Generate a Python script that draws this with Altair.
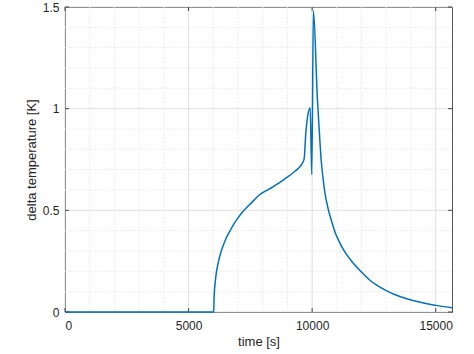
import altair as alt
import pandas as pd

time_s = [0, 6020, 6028, 6040, 6065, 6120, 6200, 6300, 6400, 6520, 6672, 6830, 7008,
          7200, 7412, 7640, 7885, 8100, 8358, 8600, 8827, 9040, 9232, 9420, 9571, 9677,
          9745, 9810, 9920, 9987, 10052, 10214, 10290, 10364, 10430, 10500, 10663,
          10780, 10905, 11080, 11310, 11600, 11985, 12300, 12660, 13000, 13340, 13800,
          14340, 14700, 15140, 15660]
delta_k = [0, 0, 0.05, 0.09, 0.13, 0.19, 0.243, 0.29, 0.326, 0.363, 0.398, 0.432, 0.464,
           0.494, 0.521, 0.549, 0.578, 0.594, 0.611, 0.630, 0.649, 0.667, 0.685, 0.704, 0.725,
           0.753, 0.881, 0.955, 1.004, 0.676, 1.482, 1.045, 0.89, 0.75, 0.67, 0.60, 0.50,
           0.45, 0.40, 0.35, 0.298, 0.25, 0.198, 0.16, 0.128, 0.105, 0.0863, 0.0665,
           0.0492, 0.0398, 0.0301, 0.0207]

x_major = [0, 5000, 10000, 15000]
y_major = [0, 0.5, 1, 1.5]
x_minor = [v for v in range(1000, 16000, 1000) if v % 5000 != 0]
y_minor = [round(v * 0.1, 1) for v in range(1, 15) if v % 5 != 0]

X_MAX = 15660
W, H = 387, 305

xs = alt.Scale(domain=[0, X_MAX], nice=False, zero=False)
ys = alt.Scale(domain=[0, 1.5], nice=False)

df = pd.DataFrame({"t": time_s, "d": delta_k})
xmin_df = pd.DataFrame({"x": x_minor})
ymin_df = pd.DataFrame({"y": y_minor})
xmaj_df = pd.DataFrame({"x": x_major})
ymaj_df = pd.DataFrame({"y": y_major})

minor_x = alt.Chart(xmin_df).mark_rule(color="#e0e0e0", strokeDash=[1, 1.5], strokeWidth=0.9).encode(
    x=alt.X("x:Q", scale=xs), y=alt.value(0), y2=alt.value(H))
minor_y = alt.Chart(ymin_df).mark_rule(color="#e0e0e0", strokeDash=[1, 1.5], strokeWidth=0.9).encode(
    y=alt.Y("y:Q", scale=ys), x=alt.value(0), x2=alt.value(W))
major_x = alt.Chart(xmaj_df).mark_rule(color="#dcdcdc", strokeWidth=0.9).encode(
    x=alt.X("x:Q", scale=xs), y=alt.value(0), y2=alt.value(H))
major_y = alt.Chart(ymaj_df).mark_rule(color="#dcdcdc", strokeWidth=0.9).encode(
    y=alt.Y("y:Q", scale=ys), x=alt.value(0), x2=alt.value(W))

tick_b = alt.Chart(xmaj_df).mark_rule(color="#444", strokeWidth=1).encode(
    x=alt.X("x:Q", scale=xs), y=alt.value(H), y2=alt.value(H - 4))
tick_t = alt.Chart(xmaj_df).mark_rule(color="#444", strokeWidth=1).encode(
    x=alt.X("x:Q", scale=xs), y=alt.value(0), y2=alt.value(4))
tick_l = alt.Chart(ymaj_df).mark_rule(color="#444", strokeWidth=1).encode(
    y=alt.Y("y:Q", scale=ys), x=alt.value(0), x2=alt.value(4))
tick_r = alt.Chart(ymaj_df).mark_rule(color="#444", strokeWidth=1).encode(
    y=alt.Y("y:Q", scale=ys), x=alt.value(W), x2=alt.value(W - 4))

line = alt.Chart(df).mark_line(color="#0072BD", strokeWidth=1.5, interpolate="monotone").encode(
    x=alt.X("t:Q", scale=xs, title="time [s]",
            axis=alt.Axis(values=x_major, format="d", grid=False, ticks=False, domain=False,
                          labelFontSize=12, labelColor="#262626", labelPadding=8,
                          titleFontSize=13, titleColor="#262626", titleFontWeight="normal",
                          titlePadding=4, labelFont="Liberation Sans", titleFont="Liberation Sans")),
    y=alt.Y("d:Q", scale=ys, title="delta temperature [K]",
            axis=alt.Axis(values=y_major, grid=False, ticks=False, domain=False,
                          labelExpr="datum.value", labelFontSize=12, labelColor="#262626",
                          labelPadding=6, titleFontSize=13, titleColor="#262626",
                          titleFontWeight="normal", titlePadding=4,
                          labelFont="Liberation Sans", titleFont="Liberation Sans")),
)

chart = alt.layer(minor_x, minor_y, major_x, major_y, tick_b, tick_t, tick_l, tick_r, line).properties(
    width=W, height=H,
    autosize=alt.AutoSizeParams(type="none"),
    padding={"left": 65, "top": 7, "right": 22, "bottom": 42},
    background="white",
).configure_view(stroke="#555555", strokeWidth=1)

chart.save("out.html", embed_options={"renderer": "svg", "actions": False})
